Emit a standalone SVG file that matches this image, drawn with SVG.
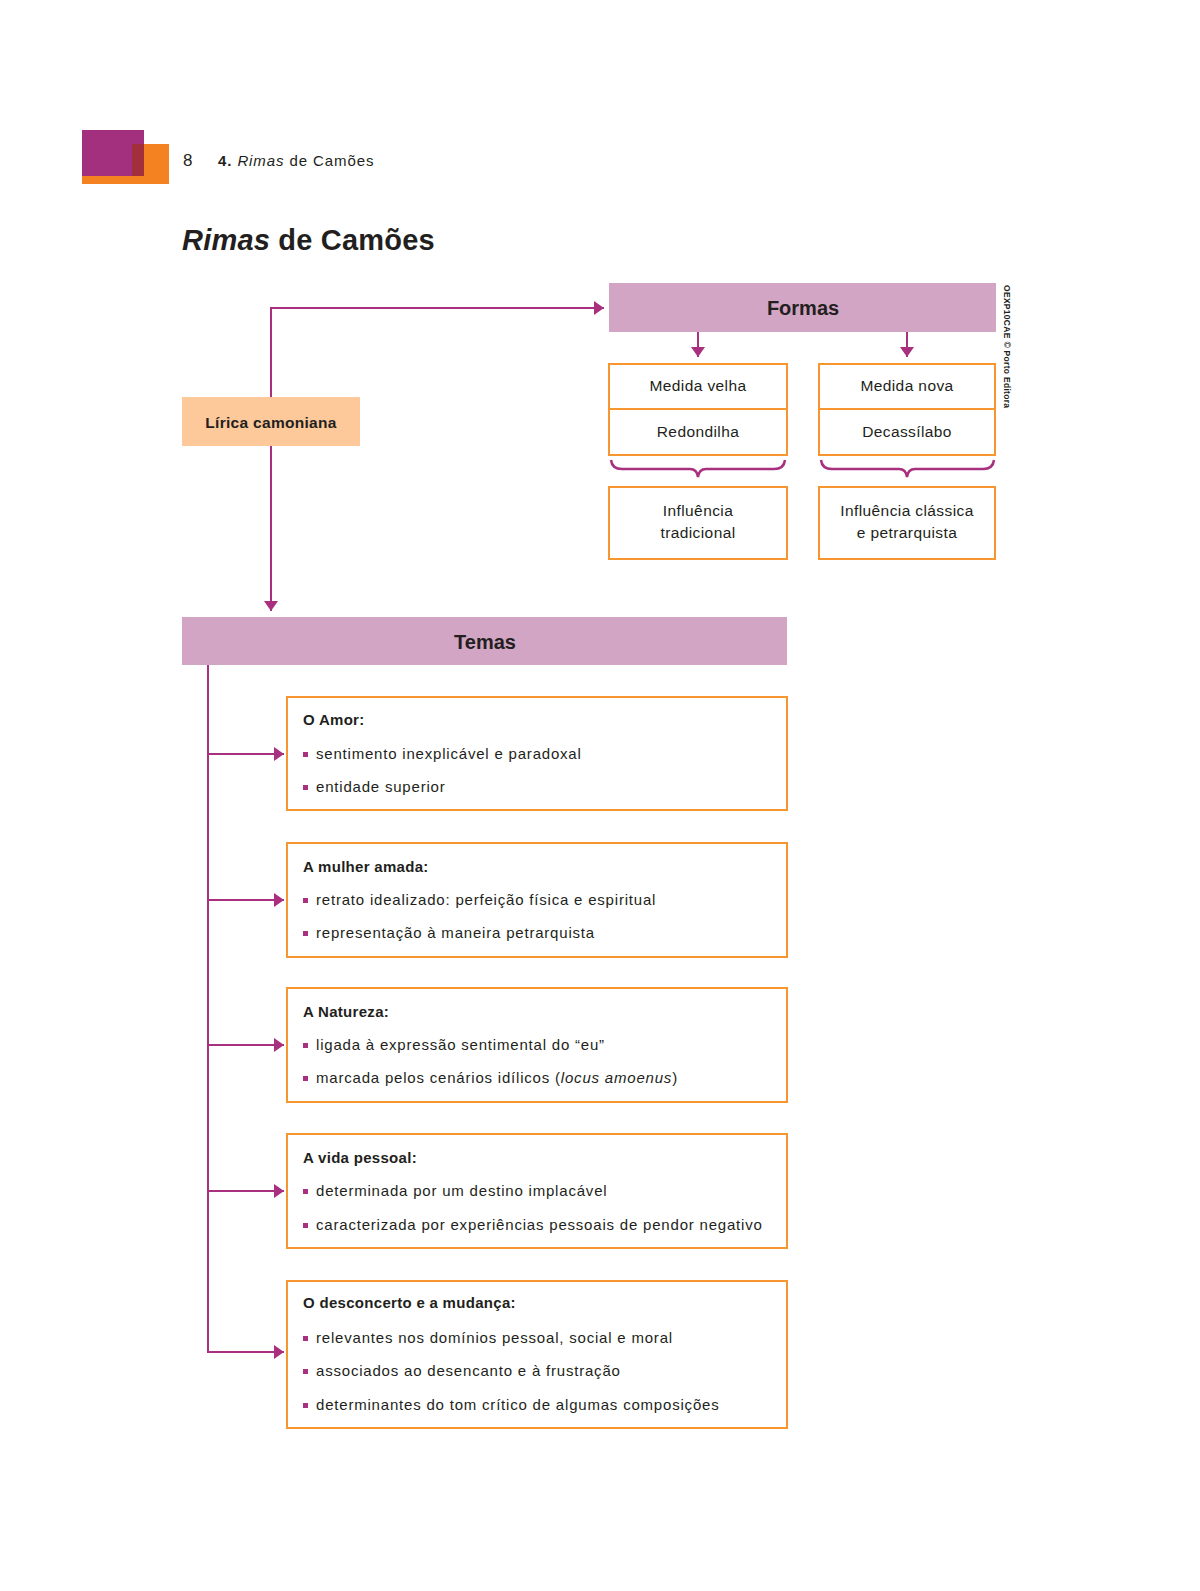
<svg xmlns="http://www.w3.org/2000/svg" width="1200" height="1591" viewBox="0 0 1200 1591">
<style>
text{font-family:"Liberation Sans",Arial,sans-serif;fill:#231f20}
.hd{font-size:20px;font-weight:bold;text-anchor:middle}
.sm{font-size:15.5px;text-anchor:middle;letter-spacing:0.4px}
.body{font-size:15px;letter-spacing:0.8px}
.ttl{font-size:15px;font-weight:bold;letter-spacing:0.3px}
.box{fill:#fff;stroke:#f7962f;stroke-width:2}
.pink{fill:#d3a5c5}
.conn{fill:none;stroke:#a8307f;stroke-width:2}
.brace{fill:none;stroke:#a8307f;stroke-width:2.5}
.bul{fill:#a8307f}
</style>
<defs>
<marker id="ah" viewBox="0 0 10 14" refX="10" refY="7" markerWidth="10" markerHeight="14" markerUnits="userSpaceOnUse" orient="auto">
<path d="M0,0 L10,7 L0,14 Z" fill="#a8307f"/>
</marker>
</defs>
<rect width="1200" height="1591" fill="#fff"/>

<g id="header">
<rect x="82" y="176" width="87" height="8" fill="#f58220"/>
<rect x="132" y="144" width="37" height="40" fill="#f58220"/>
<rect x="82" y="130" width="62" height="46" fill="#a3307f"/>
<rect x="132" y="144" width="12" height="32" fill="#a12f3c"/>
<text x="183" y="166" font-size="17" fill="#333">8</text>
<text x="218" y="166" font-size="15" letter-spacing="0.9"><tspan font-weight="bold">4.</tspan> <tspan font-style="italic">Rimas</tspan> de Camões</text>
<text x="182" y="250" font-size="29" font-weight="bold" letter-spacing="0.2"><tspan font-style="italic">Rimas</tspan> de Camões</text>
<text transform="translate(1004,285) rotate(90)" font-size="8.5" font-weight="bold" fill="#333" letter-spacing="0.3">OEXP10CAE © Porto Editora</text>
</g>

<g id="connectors">
<path class="conn" d="M271,397 V308 H604" marker-end="url(#ah)"/>
<path class="conn" d="M271,446 V611" marker-end="url(#ah)"/>
<path class="conn" d="M698,332 V357" marker-end="url(#ah)"/>
<path class="conn" d="M907,332 V357" marker-end="url(#ah)"/>
<path class="conn" d="M208,665 V1353"/>
<path class="conn" d="M208,754 H284" marker-end="url(#ah)"/>
<path class="conn" d="M208,900 H284" marker-end="url(#ah)"/>
<path class="conn" d="M208,1045 H284" marker-end="url(#ah)"/>
<path class="conn" d="M208,1191 H284" marker-end="url(#ah)"/>
<path class="conn" d="M207,1352 H284" marker-end="url(#ah)"/>
<path class="brace" d="M611,460 Q612,469 622,469 L690,469 Q697,469 698,477 Q699,469 706,469 L774,469 Q784,469 785,460"/>
<path class="brace" d="M821,460 Q822,469 832,469 L899,469 Q906,469 907,477 Q908,469 915,469 L983,469 Q993,469 994,460"/>
</g>

<g id="lirica">
<rect x="182" y="397" width="178" height="49" fill="#fdc99a"/>
<text x="271" y="428" font-size="15.5" font-weight="bold" text-anchor="middle" letter-spacing="0.3">Lírica camoniana</text>
</g>

<g id="formas">
<rect class="pink" x="609" y="283" width="387" height="49"/>
<text class="hd" x="803" y="315">Formas</text>
</g>

<g id="medida-velha">
<rect class="box" x="609" y="364" width="178" height="91"/>
<line x1="609" y1="409" x2="787" y2="409" stroke="#f7962f" stroke-width="2"/>
<text class="sm" x="698" y="391">Medida velha</text>
<text class="sm" x="698" y="437">Redondilha</text>
</g>

<g id="medida-nova">
<rect class="box" x="819" y="364" width="176" height="91"/>
<line x1="819" y1="409" x2="995" y2="409" stroke="#f7962f" stroke-width="2"/>
<text class="sm" x="907" y="391">Medida nova</text>
<text class="sm" x="907" y="437">Decassílabo</text>
</g>

<g id="influencia-tradicional">
<rect class="box" x="609" y="487" width="178" height="72"/>
<text class="sm" x="698" y="516">Influência</text>
<text class="sm" x="698" y="538">tradicional</text>
</g>

<g id="influencia-classica">
<rect class="box" x="819" y="487" width="176" height="72"/>
<text class="sm" x="907" y="516">Influência clássica</text>
<text class="sm" x="907" y="538">e petrarquista</text>
</g>

<g id="temas">
<rect class="pink" x="182" y="617" width="605" height="48"/>
<text class="hd" x="485" y="649">Temas</text>
</g>

<g id="amor">
<rect class="box" x="287" y="697" width="500" height="113"/>
<text class="ttl" x="303" y="725">O Amor:</text>
<rect class="bul" x="303" y="752" width="5" height="5"/>
<text class="body" x="316" y="759">sentimento inexplicável e paradoxal</text>
<rect class="bul" x="303" y="785" width="5" height="5"/>
<text class="body" x="316" y="792">entidade superior</text>
</g>

<g id="mulher">
<rect class="box" x="287" y="843" width="500" height="114"/>
<text class="ttl" x="303" y="872">A mulher amada:</text>
<rect class="bul" x="303" y="898" width="5" height="5"/>
<text class="body" x="316" y="905">retrato idealizado: perfeição física e espiritual</text>
<rect class="bul" x="303" y="931" width="5" height="5"/>
<text class="body" x="316" y="938">representação à maneira petrarquista</text>
</g>

<g id="natureza">
<rect class="box" x="287" y="988" width="500" height="114"/>
<text class="ttl" x="303" y="1017">A Natureza:</text>
<rect class="bul" x="303" y="1043" width="5" height="5"/>
<text class="body" x="316" y="1050">ligada à expressão sentimental do “eu”</text>
<rect class="bul" x="303" y="1076" width="5" height="5"/>
<text class="body" x="316" y="1083">marcada pelos cenários idílicos (<tspan font-style="italic">locus amoenus</tspan>)</text>
</g>

<g id="vida">
<rect class="box" x="287" y="1134" width="500" height="114"/>
<text class="ttl" x="303" y="1163">A vida pessoal:</text>
<rect class="bul" x="303" y="1189" width="5" height="5"/>
<text class="body" x="316" y="1196">determinada por um destino implacável</text>
<rect class="bul" x="303" y="1223" width="5" height="5"/>
<text class="body" x="316" y="1230">caracterizada por experiências pessoais de pendor negativo</text>
</g>

<g id="desconcerto">
<rect class="box" x="287" y="1281" width="500" height="147"/>
<text class="ttl" x="303" y="1308">O desconcerto e a mudança:</text>
<rect class="bul" x="303" y="1336" width="5" height="5"/>
<text class="body" x="316" y="1343">relevantes nos domínios pessoal, social e moral</text>
<rect class="bul" x="303" y="1369" width="5" height="5"/>
<text class="body" x="316" y="1376">associados ao desencanto e à frustração</text>
<rect class="bul" x="303" y="1403" width="5" height="5"/>
<text class="body" x="316" y="1410">determinantes do tom crítico de algumas composições</text>
</g>
</svg>
